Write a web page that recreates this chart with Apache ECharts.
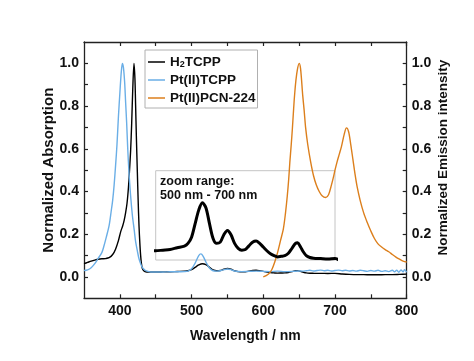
<!DOCTYPE html>
<html>
<head>
<meta charset="utf-8">
<script src="https://cdn.jsdelivr.net/npm/echarts@6/dist/echarts.min.js"></script>
<style>
html,body{margin:0;padding:0;background:#fff;}
#c{width:474px;height:361px;}
</style>
</head>
<body>
<div id="c"></div>
<script>
// ---- data (wavelength in nm, normalized values) ----
var h2Wl = [350,355,360,365,370,375,380,385,390,394,398,401,404,406,408,410,412,413.5,415,416.5,418,419.7,421,422,423,424.4,425.5,426.7,428,429,430,431.3,433,436,440,445,450,460,470,480,490,495,500,505,510,515,520,525,530,535,540,545,550,555,560,565,570,575,580,585,590,595,600,605,610,615,620,625,630,635,640,645,648,652,656,660,665,670,680,690,700,710,720,730,740,750,760,770,780,790,800];
var h2Abs = [0.062,0.068,0.074,0.079,0.083,0.085,0.086,0.09,0.105,0.13,0.17,0.21,0.24,0.265,0.30,0.345,0.42,0.50,0.59,0.72,0.88,1.0,0.93,0.80,0.66,0.49,0.36,0.24,0.15,0.10,0.065,0.04,0.03,0.024,0.023,0.023,0.023,0.0235,0.024,0.0255,0.0268,0.029,0.034,0.045,0.056,0.062,0.058,0.045,0.033,0.029,0.030,0.036,0.0395,0.036,0.029,0.025,0.0235,0.024,0.027,0.030,0.031,0.029,0.026,0.023,0.0205,0.019,0.018,0.0185,0.019,0.021,0.025,0.029,0.0295,0.026,0.022,0.019,0.0175,0.017,0.0167,0.0164,0.0168,0.014,0.012,0.011,0.011,0.010,0.010,0.011,0.011,0.012,0.013];

var ptWl = [350,355,360,365,370,375,378,381,385,388,390,392,394,396,398,400,402,403.5,405,406.7,408,409.5,411,412.7,415,417.4,420,422,424.5,426.7,429,431,434,437,443,450,460,470,480,490,495,500,505,510,513,516,520,525,530,535,540,545,550,555,560,570,580,590,600,610,620,630,640,650,655,660,665,670,675,680,685,690,695,700,705,710,715,720,725,730,735,740,745,750,755,760,765,770,775,780,783,786,789,792,795,797,800];
var ptAbs = [0.03,0.033,0.043,0.062,0.088,0.115,0.147,0.185,0.24,0.31,0.36,0.43,0.52,0.62,0.75,0.86,0.96,1.0,0.98,0.91,0.82,0.72,0.60,0.49,0.38,0.29,0.22,0.165,0.12,0.085,0.062,0.046,0.035,0.028,0.023,0.023,0.023,0.024,0.024,0.025,0.027,0.038,0.065,0.10,0.108,0.098,0.07,0.042,0.029,0.027,0.029,0.034,0.037,0.034,0.028,0.025,0.026,0.027,0.026,0.025,0.027,0.025,0.026,0.028,0.027,0.029,0.031,0.028,0.030,0.032,0.029,0.031,0.028,0.030,0.032,0.029,0.031,0.028,0.030,0.027,0.031,0.029,0.026,0.030,0.027,0.031,0.026,0.029,0.025,0.031,0.024,0.032,0.022,0.033,0.024,0.034,0.022];

var pcnWl = [600,604,608,612,616,620,624,628,631,633.5,635.5,637,639,640.5,642,643.5,645.5,647.5,650,652,655,657,659,662,666,670,674,678,682,687,691,695,698,700,703,706,709,713,716,719,722,725,728,731,735,740,745,750,755,760,765,770,775,780,785,790,795,800];
var pcnEm = [0.0,0.006,0.016,0.035,0.07,0.115,0.17,0.225,0.30,0.38,0.46,0.535,0.62,0.69,0.77,0.845,0.92,0.97,1.0,0.975,0.85,0.78,0.70,0.62,0.54,0.475,0.43,0.40,0.38,0.372,0.385,0.43,0.47,0.50,0.54,0.575,0.61,0.67,0.698,0.68,0.62,0.55,0.48,0.42,0.36,0.30,0.255,0.215,0.18,0.155,0.14,0.128,0.118,0.105,0.093,0.083,0.074,0.07];

var xTicks = [400,450,500,550,600,650,700,750,800];
var xLabels = [400,500,600,700,800];
var yTicks = [0,0.1,0.2,0.3,0.4,0.5,0.6,0.7,0.8,0.9,1.0];
var yLabels = [0,0.2,0.4,0.6,0.8,1.0];

var seriesNames = ['H2TCPP','Pt(II)TCPP','Pt(II)PCN-224'];
var insetText = ['zoom range:','500 nm - 700 nm'];

function zip(a,b){return a.map(function(v,i){return [v,b[i]];});}

var FONT = '"Liberation Sans", Arial, Helvetica, sans-serif';
var AX = '#222';

function yAx(pos, name, nameSize, gap, pad){
  return {
    type:'value', gridIndex:0, position:pos, min:-0.1, max:1.1,
    axisLine:{show:true, onZero:false, lineStyle:{color:AX,width:1.3}},
    axisTick:{show:true, inside:true, length:4, customValues:yTicks, lineStyle:{color:AX,width:1.2}},
    axisLabel:{customValues:yLabels, margin:5, fontSize:14, fontWeight:'bold', color:'#111', fontFamily:FONT,
      formatter:function(v){return v.toFixed(1);}},
    splitLine:{show:false},
    name:name, nameLocation:'middle', nameGap:gap, nameMoveOverlap:false,
    nameTextStyle:{fontSize:nameSize, fontWeight:'bold', color:'#111', fontFamily:FONT, padding:pad}
  };
}

var option = {
  animation:false,
  backgroundColor:'#fff',
  textStyle:{fontFamily:FONT},
  grid:[
    {left:84, right:67.3, top:42, bottom:62.7},
    {left:155.7, right:139, top:170.7, bottom:101, show:true, borderColor:'#c4c4c4', borderWidth:1, backgroundColor:'transparent'}
  ],
  xAxis:[
    {type:'value', gridIndex:0, position:'bottom', min:350, max:800, interval:50,
     axisLine:{show:true, onZero:false, lineStyle:{color:AX,width:1.3}},
     axisTick:{show:true, inside:true, length:4, customValues:xTicks, lineStyle:{color:AX,width:1.2}},
     axisLabel:{customValues:xLabels, margin:6, fontSize:14, fontWeight:'bold', color:'#111', fontFamily:FONT},
     splitLine:{show:false},
     name:'Wavelength / nm', nameLocation:'middle', nameGap:31, nameMoveOverlap:false,
     nameTextStyle:{fontSize:14, fontWeight:'bold', color:'#111', fontFamily:FONT}},
    {type:'value', gridIndex:0, position:'top', min:350, max:800, interval:50,
     axisLine:{show:true, onZero:false, lineStyle:{color:AX,width:1.3}},
     axisTick:{show:true, inside:true, length:4, customValues:xTicks, lineStyle:{color:AX,width:1.2}},
     axisLabel:{show:false}, splitLine:{show:false}},
    {type:'value', gridIndex:1, min:450, max:700, show:false}
  ],
  yAxis:[
    yAx('left','Normalized Absorption',15,28,[0,0,0,0]),
    yAx('right','Normalized Emission intensity',13.5,30,[0,0,0,25]),
    {type:'value', gridIndex:1, min:0.0155, max:0.088, show:false}
  ],
  legend:{
    orient:'vertical', left:145, top:50, padding:[4,2,3,3], itemGap:4,
    itemWidth:17, itemHeight:14, borderColor:'#b0b0b0', borderWidth:1,
    icon:'path://M0,0H34V3H0Z', symbolKeepAspect:true,
    data:seriesNames,
    textStyle:{fontSize:13.5, fontWeight:'bold', color:'#111', fontFamily:FONT,
      rich:{
        n:{fontSize:13.5, fontWeight:'bold', color:'#111', fontFamily:FONT},
        s:{fontSize:9, fontWeight:'bold', color:'#111', fontFamily:FONT, verticalAlign:'bottom', lineHeight:9, padding:[6,0,0,0]}
      }},
    formatter:function(name){
      if(name==='H2TCPP') return '{n|H}{s|2}{n|TCPP}';
      return '{n|'+name+'}';
    }
  },
  graphic:[
    {type:'text', left:160, top:175, style:{text:insetText[0], font:'bold 12.5px '+FONT, fill:'#111'}},
    {type:'text', left:160, top:189, style:{text:insetText[1], font:'bold 12.5px '+FONT, fill:'#111'}}
  ],
  series:[
    {name:seriesNames[0], type:'line', xAxisIndex:0, yAxisIndex:0, data:zip(h2Wl,h2Abs),
     showSymbol:false, symbol:'none', smooth:0.3, lineStyle:{color:'#000',width:1.4}, itemStyle:{color:'#000'}},
    {name:seriesNames[1], type:'line', xAxisIndex:0, yAxisIndex:0, data:zip(ptWl,ptAbs),
     showSymbol:false, symbol:'none', smooth:0.3, lineStyle:{color:'#6aaee6',width:1.4}, itemStyle:{color:'#6aaee6'}},
    {name:seriesNames[2], type:'line', xAxisIndex:0, yAxisIndex:1, data:zip(pcnWl,pcnEm),
     showSymbol:false, symbol:'none', smooth:0.3, lineStyle:{color:'#dc7f1c',width:1.4}, itemStyle:{color:'#dc7f1c'}},
    {name:'inset', type:'line', xAxisIndex:2, yAxisIndex:2, data:zip(h2Wl,h2Abs), clip:true,
     showSymbol:false, symbol:'none', smooth:0.3, lineStyle:{color:'#000',width:3}, itemStyle:{color:'#000'}}
  ]
};

var chart = echarts.init(document.getElementById('c'), null, {renderer:'canvas'});
chart.setOption(option);
</script>
</body>
</html>
